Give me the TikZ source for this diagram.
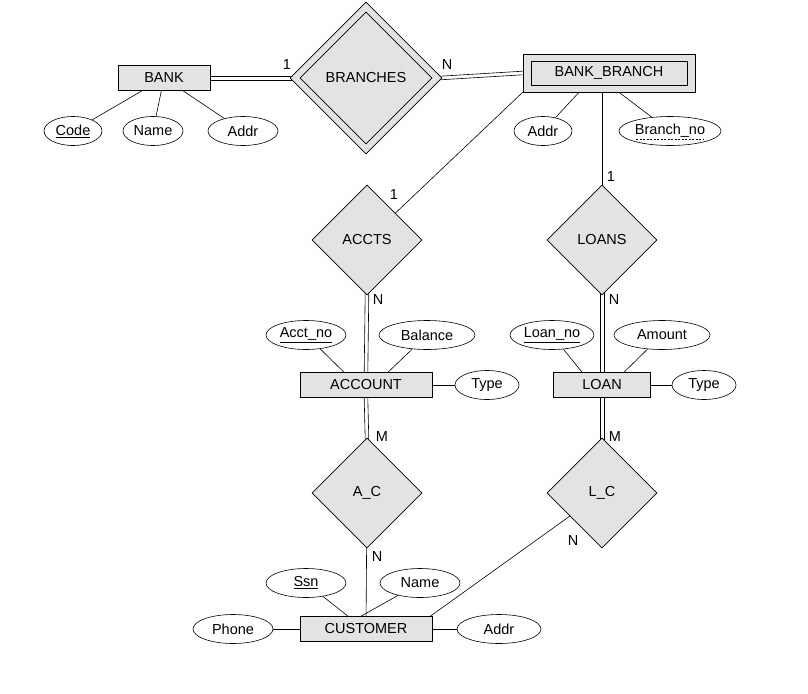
\documentclass[tikz,border=0pt]{standalone}
\usepackage{fontspec}
\setmainfont{Liberation Sans}
\usetikzlibrary{shapes.geometric}
\begin{document}
\begin{tikzpicture}[x=1pt,y=-1pt,font=\fontsize{14.5}{16}\selectfont,line width=0.6pt,
  ent/.style={draw,fill=gray!22,minimum height=25pt,inner sep=2pt},
  att/.style={draw,ellipse,fill=white,minimum height=29pt,inner sep=1pt},
  rel/.style={draw,diamond,aspect=1,fill=gray!22,minimum size=110pt,inner sep=0pt},
  lbl/.style={inner sep=0pt}]
\useasboundingbox (0,0) rectangle (808,693);
% entities
\node[ent,minimum width=92pt] (bank) at (164,78) {BANK};
\node[draw,fill=gray!22,minimum width=172pt,minimum height=38pt] (bb) at (609,73) {};
\node[draw,fill=gray!22,minimum width=156pt,minimum height=24pt] (bbi) at (609,73) {BANK\_BRANCH};
\node[ent,minimum width=132pt] (acc) at (366,385) {ACCOUNT};
\node[ent,minimum width=97pt] (loan) at (602,385) {LOAN};
\node[ent,minimum width=132pt] (cust) at (366,629) {CUSTOMER};
% relationships
\node[rel,minimum size=152pt] (br) at (366,78) {};
\node[draw,diamond,aspect=1,minimum size=132pt,inner sep=0pt] (bri) at (366,78) {BRANCHES};
\node[rel] (accts) at (367,240) {ACCTS};
\node[rel] (loans) at (602,240) {LOANS};
\node[rel] (ac) at (367,493) {A\_C};
\node[rel] (lc) at (602,493) {L\_C};
% attributes
\node[att,minimum width=58pt] (code) at (73,131) {\underline{Code}};
\node[att,minimum width=60pt] (bname) at (153,131) {Name};
\node[att,minimum width=70pt] (baddr) at (243,131) {Addr};
\node[att,minimum width=58pt] (bbaddr) at (543,131) {Addr};
\node[att,minimum width=100pt] (bno) at (670,131) {Branch\_no};
\draw[dashed,line width=0.5pt,dash pattern=on 2pt off 1.5pt] ([xshift=-34pt,yshift=-8.5pt]bno.center) coordinate (du1) -- ([xshift=34pt,yshift=-8.5pt]bno.center) coordinate (du2);
\node[att,minimum width=80pt] (actno) at (306,335) {\underline{Acct\_no}};
\node[att,minimum width=96pt] (bal) at (427,335) {Balance};
\node[att,minimum width=64pt] (atype) at (487,385) {Type};
\node[att,minimum width=84pt] (lno) at (552,335) {\underline{Loan\_no}};
\node[att,minimum width=96pt] (amt) at (662,335) {Amount};
\node[att,minimum width=64pt] (ltype) at (704,385) {Type};
\node[att,minimum width=80pt] (ssn) at (306,583) {\underline{Ssn}};
\node[att,minimum width=80pt] (cname) at (420,583) {Name};
\node[att,minimum width=80pt] (phone) at (233,629) {Phone};
\node[att,minimum width=84pt] (caddr) at (499,629) {Addr};
% attribute links
\draw (code) -- (bank); \draw (bname) -- (bank); \draw (baddr) -- (bank);
\draw (bbaddr) -- ([xshift=-30pt]bb.south); \draw (bno) -- ([xshift=10pt]bb.south);
\draw (actno) -- ([xshift=-22pt]acc.north); \draw (bal) -- ([xshift=22pt]acc.north);
\draw (atype) -- (acc);
\draw (lno) -- ([xshift=-20pt]loan.north); \draw (amt) -- ([xshift=22pt]loan.north);
\draw (ltype) -- (loan);
\draw (ssn) -- ([xshift=-18pt]cust.north); \draw (cname) -- ([xshift=-5pt]cust.north);
\draw (phone) -- (cust); \draw (caddr) -- (cust);
% relationship links (double lines drawn as two parallels)
\foreach \s in {-1.8,1.8} {
  \draw ([yshift=\s pt]bank.east) -- ([yshift=\s pt,xshift=2pt]br.west);
  \draw ([yshift=\s pt,xshift=-2pt]br.east) -- ([yshift=\s pt]bb.west);
  \draw ([xshift=\s pt,yshift=2pt]accts.south) -- ([xshift=\s pt]acc.north);
  \draw ([xshift=\s pt]acc.south) -- ([xshift=\s pt,yshift=-2pt]ac.north);
  \draw ([xshift=\s pt,yshift=2pt]loans.south) -- ([xshift=\s pt]loan.north);
  \draw ([xshift=\s pt]loan.south) -- ([xshift=\s pt,yshift=-2pt]lc.north);
}
\draw (bb.south west) -- (accts);
\draw ([xshift=-7pt]bb.south) -- (loans.north);
\draw (ac) -- (cust);
\draw (lc) -- ([xshift=-2pt]cust.north east);
% cardinalities
\node[lbl] (c1) at (287,65) {1};
\node[lbl] (c2) at (447,65) {N};
\node[lbl] (c3) at (394,195) {1};
\node[lbl] (c4) at (611,177) {1};
\node[lbl] (c5) at (378,300) {N};
\node[lbl] (c6) at (614,300) {N};
\node[lbl] (c7) at (382,437) {M};
\node[lbl] (c8) at (615,437) {M};
\node[lbl] (c9) at (377,557) {N};
\node[lbl] (c10) at (573,541) {N};
\end{tikzpicture}
\end{document}
